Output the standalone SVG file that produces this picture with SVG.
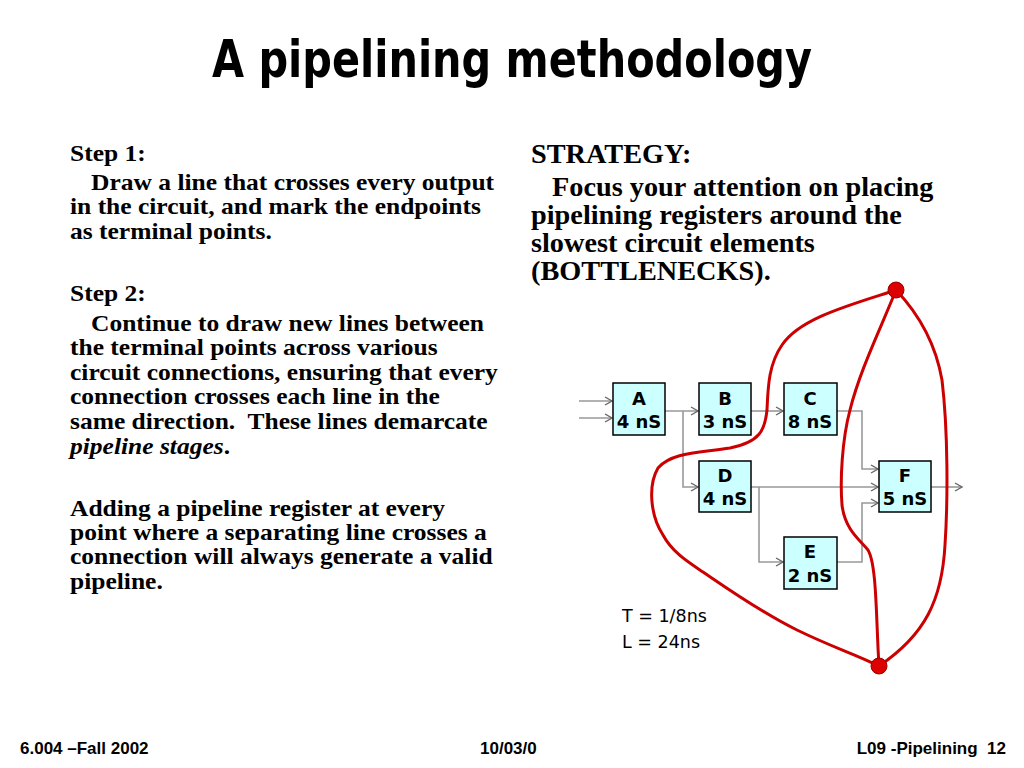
<svg xmlns="http://www.w3.org/2000/svg" width="1024" height="768" viewBox="0 0 1024 768">
<style>
.title{font-family:"Comic Sans MS","DejaVu Sans Condensed","DejaVu Sans",sans-serif;font-weight:bold;font-size:52px;fill:#000}
.body{font-family:"Liberation Serif","Times New Roman",serif;font-weight:bold;font-size:24px;fill:#000}
.strat{font-family:"Liberation Serif","Times New Roman",serif;font-weight:bold;font-size:26.5px;fill:#000}
.box{fill:#ccffff;stroke:#000;stroke-width:1.5}
.lbl{font-family:"Comic Sans MS","DejaVu Sans",sans-serif;font-weight:bold;font-size:18px;fill:#000;text-anchor:middle}
.wire{fill:none;stroke:#999;stroke-width:1.6}
.red{fill:none;stroke:#cc0000;stroke-width:3;stroke-linecap:round}
.dot{fill:#dd0000;stroke:#990000;stroke-width:1}
.eq{font-family:"DejaVu Sans",sans-serif;font-size:17.5px;fill:#000}
.foot{font-family:"Liberation Sans Narrow","Liberation Sans",Arial,sans-serif;font-weight:bold;font-size:17px;fill:#000;white-space:pre}
</style>
<defs>
<marker id="arr" markerWidth="10" markerHeight="10" refX="8" refY="5" orient="auto" markerUnits="userSpaceOnUse">
<path d="M1,1 L8,5 L1,9" fill="none" stroke="#666" stroke-width="1.4"/>
</marker>
</defs>
<rect width="1024" height="768" fill="#fff"/>
<text class="title" x="212" y="77" textLength="600" lengthAdjust="spacingAndGlyphs">A pipelining methodology</text>

<g id="left-text" transform="translate(70,0) scale(1.0625,1) translate(-70,0)">
<text class="body" x="70" y="161">Step 1:</text>
<text class="body" x="89.8" y="190">Draw a line that crosses every output</text>
<text class="body" x="70" y="214">in the circuit, and mark the endpoints</text>
<text class="body" x="70" y="239">as terminal points.</text>
<text class="body" x="70" y="301">Step 2:</text>
<text class="body" x="89.8" y="331">Continue to draw new lines between</text>
<text class="body" x="70" y="355">the terminal points across various</text>
<text class="body" x="70" y="380">circuit connections, ensuring that every</text>
<text class="body" x="70" y="404">connection crosses each line in the</text>
<text class="body" x="70" y="429" style="white-space:pre">same direction.  These lines demarcate</text>
<text class="body" x="70" y="454"><tspan font-style="italic">pipeline stages</tspan>.</text>
<text class="body" x="70" y="516">Adding a pipeline register at every</text>
<text class="body" x="70" y="540">point where a separating line crosses a</text>
<text class="body" x="70" y="564">connection will always generate a valid</text>
<text class="body" x="70" y="589">pipeline.</text>
</g>

<g id="strategy-text" transform="translate(531,0) scale(1.068,1) translate(-531,0)">
<text class="strat" x="531" y="163">STRATEGY:</text>
<text class="strat" x="550.7" y="196">Focus your attention on placing</text>
<text class="strat" x="531" y="224">pipelining registers around the</text>
<text class="strat" x="531" y="252">slowest circuit elements</text>
<text class="strat" x="531" y="280">(BOTTLENECKS).</text>
</g>

<g id="connectors">
<path class="wire" d="M579,401 L612,401" marker-end="url(#arr)"/>
<path class="wire" d="M579,418 L612,418" marker-end="url(#arr)"/>
<path class="wire" d="M665,411 L698,411" marker-end="url(#arr)"/>
<path class="wire" d="M683,411 L683,487 L698,487" marker-end="url(#arr)"/>
<path class="wire" d="M751,411 L783,411" marker-end="url(#arr)"/>
<path class="wire" d="M837,411 L862,411 L862,469 L878,469" marker-end="url(#arr)"/>
<path class="wire" d="M751,487 L878,487" marker-end="url(#arr)"/>
<path class="wire" d="M759,487 L759,562 L783,562" marker-end="url(#arr)"/>
<path class="wire" d="M837,562 L862,562 L862,503 L878,503" marker-end="url(#arr)"/>
<path class="wire" d="M931,487 L962,487" marker-end="url(#arr)"/>
</g>

<g id="A"><rect class="box" x="613" y="383" width="52" height="52"/><text class="lbl" x="639" y="405">A</text><text class="lbl" x="639" y="428">4 nS</text></g>
<g id="B"><rect class="box" x="699" y="383" width="52" height="52"/><text class="lbl" x="725" y="405">B</text><text class="lbl" x="725" y="428">3 nS</text></g>
<g id="C"><rect class="box" x="784" y="383" width="53" height="52"/><text class="lbl" x="810" y="405">C</text><text class="lbl" x="810" y="428">8 nS</text></g>
<g id="D"><rect class="box" x="699" y="461" width="52" height="51"/><text class="lbl" x="725" y="482">D</text><text class="lbl" x="725" y="505">4 nS</text></g>
<g id="E"><rect class="box" x="784" y="537" width="53" height="52"/><text class="lbl" x="810" y="558">E</text><text class="lbl" x="810" y="582">2 nS</text></g>
<g id="F"><rect class="box" x="879" y="461" width="52" height="51"/><text class="lbl" x="905" y="482">F</text><text class="lbl" x="905" y="505">5 nS</text></g>

<g id="stage-lines">
<path class="red" d="M896,290 C850,305 800,318 782,345 C768,365 768,390 767,410 C765,430 760,442 730,448 C700,453 672,452 658,468 C648,485 650,515 663,535 C672,552 688,562 703,572 S760,612 797,630 S850,652 879,666"/>
<path class="red" d="M896,290 C880,330 860,370 850,410 C842,440 840,480 842,505 C845,530 860,540 868,550 C877,565 876,620 879,666"/>
<path class="red" d="M896,290 C915,310 935,340 942,380 C948,430 948,500 945,545 C942,600 925,635 879,666"/>
<circle class="dot" cx="896" cy="290" r="8"/>
<circle class="dot" cx="879" cy="666" r="8"/>
</g>

<text class="eq" x="622" y="622">T = 1/8ns</text>
<text class="eq" x="622" y="648">L = 24ns</text>

<text class="foot" x="20" y="754">6.004 –Fall 2002</text>
<text class="foot" x="480" y="754">10/03/0</text>
<text class="foot" x="1006" y="754" text-anchor="end">L09 -Pipelining  12</text>
</svg>
